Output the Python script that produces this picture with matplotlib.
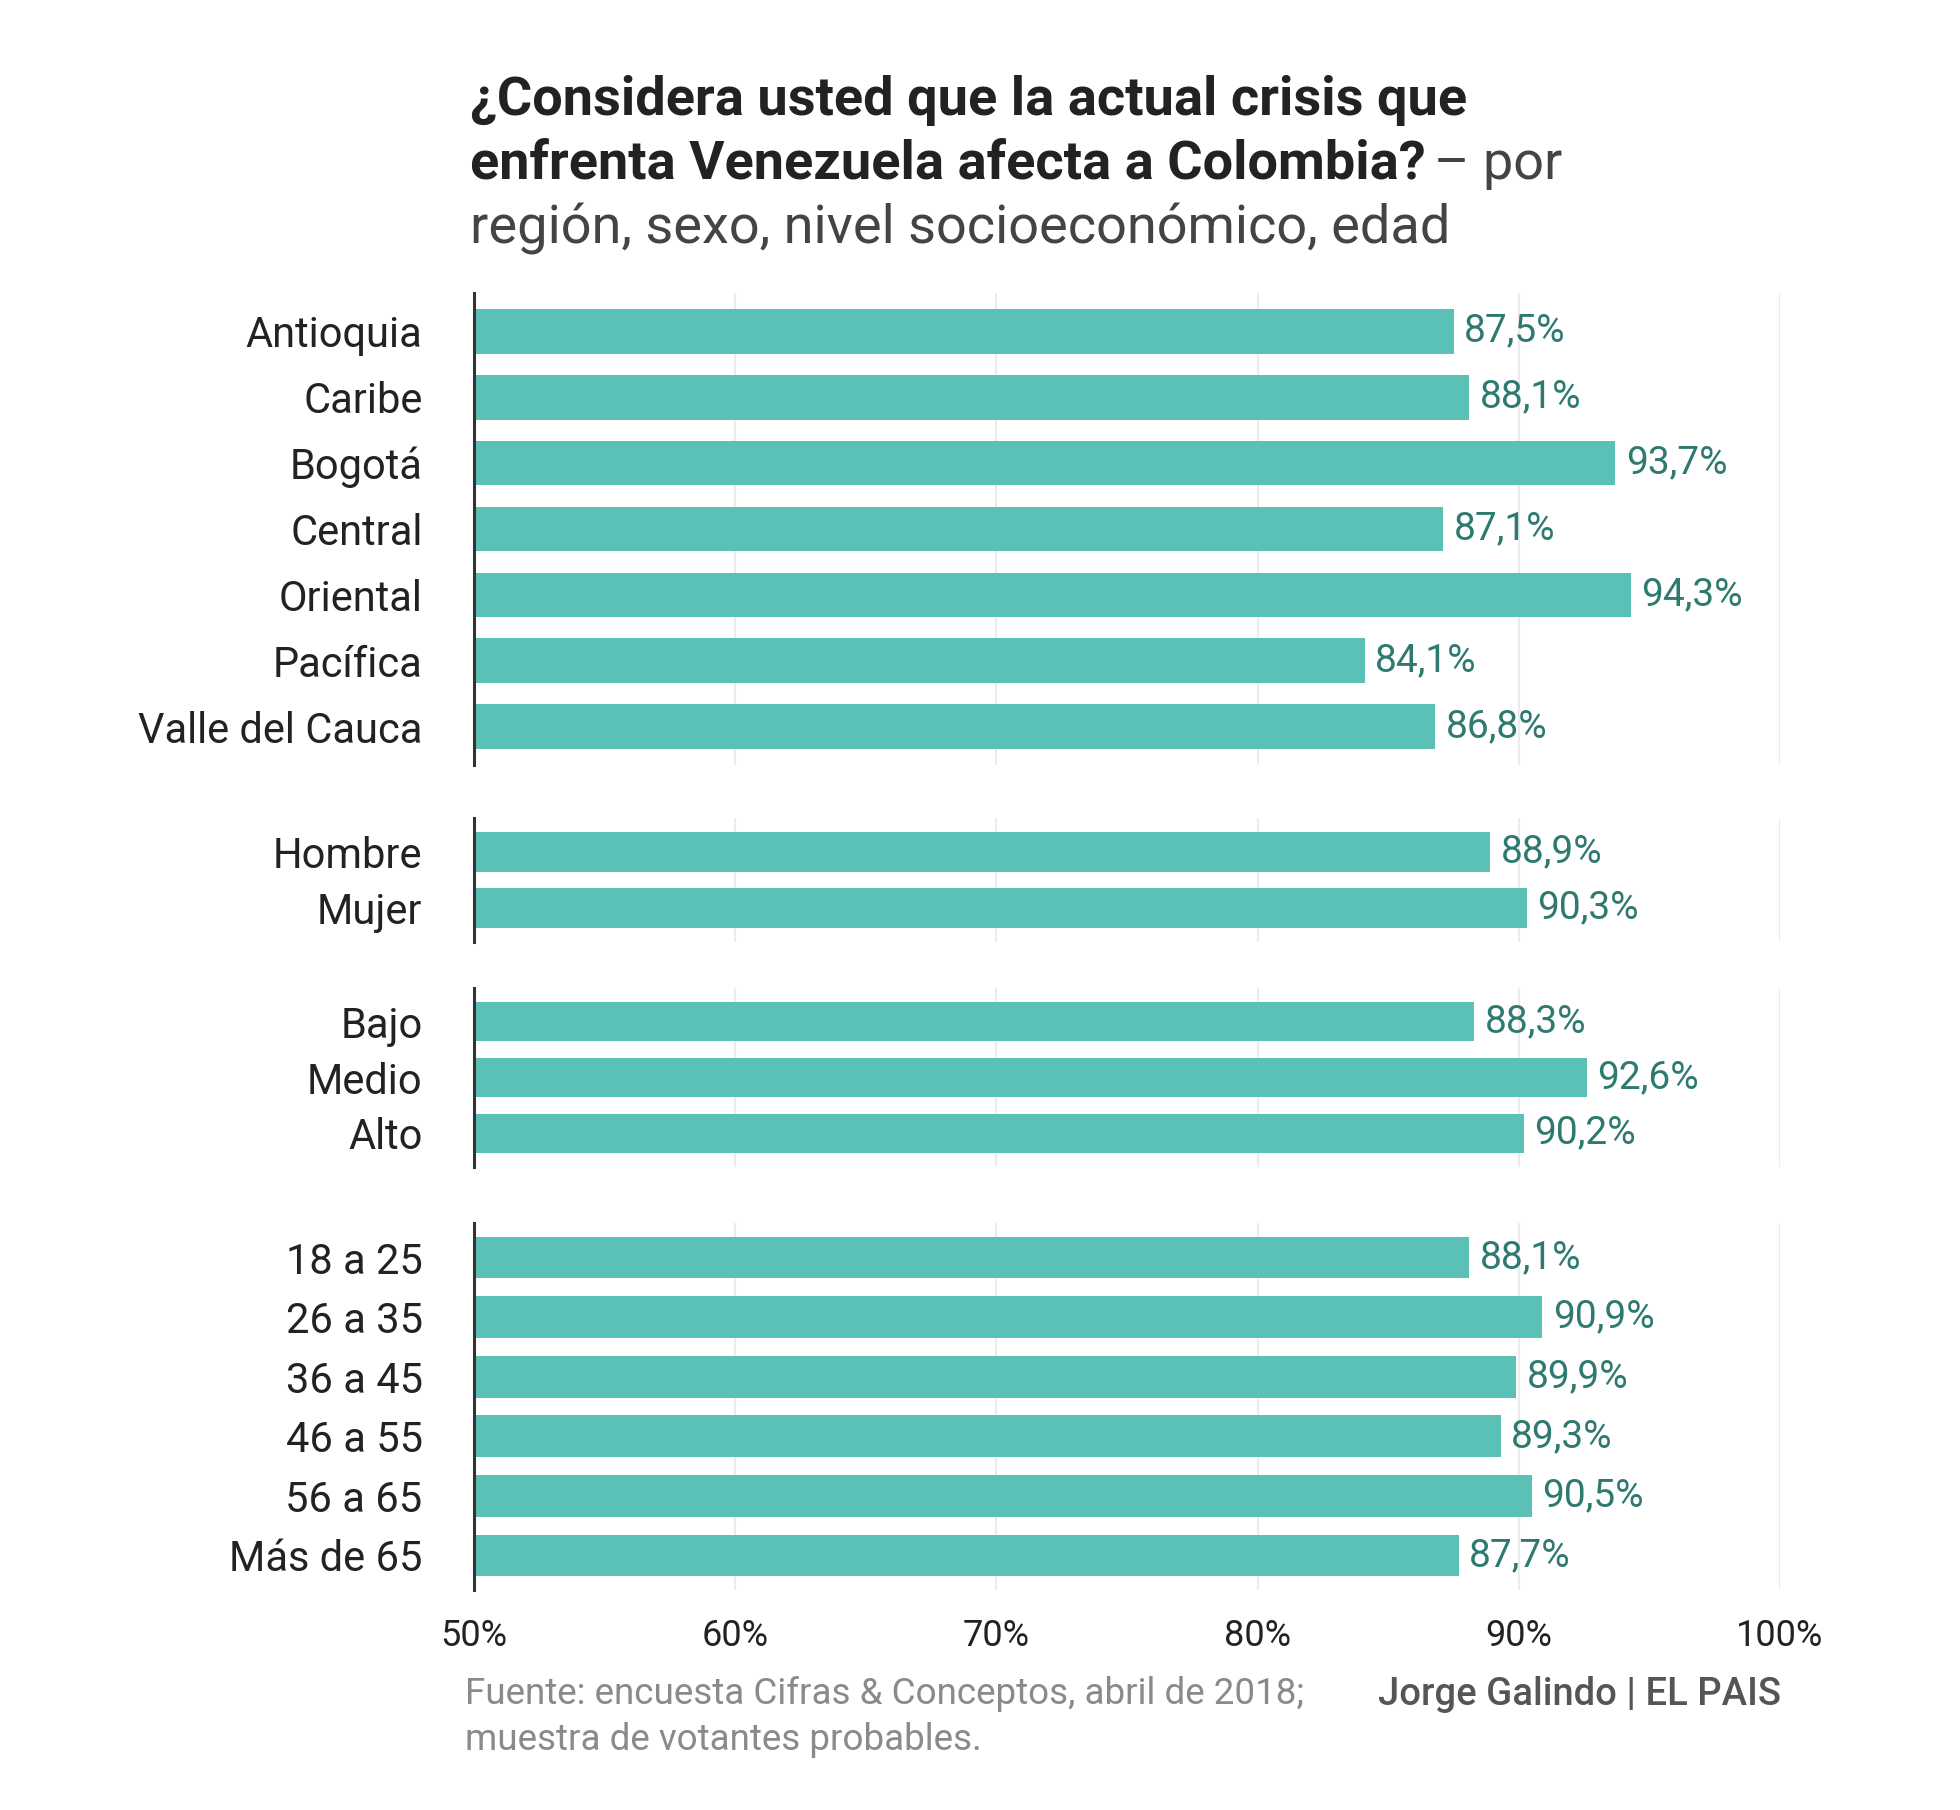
import matplotlib
matplotlib.use("Agg")
import matplotlib.pyplot as plt

# datos por grupo (% que responde "sí")
region = ["Antioquia", "Caribe", "Bogotá", "Central", "Oriental", "Pacífica", "Valle del Cauca"]
region_vals = [87.5, 88.1, 93.7, 87.1, 94.3, 84.1, 86.8]
sexo = ["Hombre", "Mujer"]
sexo_vals = [88.9, 90.3]
nivel = ["Bajo", "Medio", "Alto"]
nivel_vals = [88.3, 92.6, 90.2]
edad = ["18 a 25", "26 a 35", "36 a 45", "46 a 55", "56 a 65", "Más de 65"]
edad_vals = [88.1, 90.9, 89.9, 89.3, 90.5, 87.7]
xticks = [50, 60, 70, 80, 90, 100]

BAR = "#5bc0b5"
TXT = "#2f7a70"
FONT = ["Roboto", "DejaVu Sans"]
plt.rcParams["font.family"] = FONT

W, H = 1960, 1810
fig = plt.figure(figsize=(W / 100, H / 100), dpi=100)

# panel: (etiquetas, valores, top px, bottom px, margen en unidades, alto barra)
panels = [
    (region, region_vals, 293, 765, 0.58, 0.68),
    (sexo, sexo_vals, 818, 942, 0.61, 0.71),
    (nivel, nivel_vals, 988, 1167, 0.61, 0.70),
    (edad, edad_vals, 1223, 1590, 0.58, 0.70),
]
x0, x1 = 474, 1780

for i, (labels, vals, top, bot, pad, bh) in enumerate(panels):
    ax = fig.add_axes([x0 / W, 1 - bot / H, (x1 - x0) / W, (bot - top) / H])
    n = len(labels)
    ypos = list(range(n))
    ax.barh(ypos, [v - 50 for v in vals], left=50, height=bh, color=BAR, zorder=2)
    for y, v in zip(ypos, vals):
        ax.text(v + 0.4, y, f"{v:.1f}%".replace(".", ","), va="center", ha="left",
                fontsize=28, color=TXT, zorder=3)
    ax.set_xlim(50, 100)
    ax.set_ylim(n - 1 + pad, -pad)
    ax.set_yticks(ypos)
    ax.set_yticklabels(labels, fontsize=30, color="#222222")
    ax.tick_params(axis="y", length=0, pad=37)
    ax.set_xticks(xticks)
    for t in xticks[1:]:
        ax.axvline(t, color="#ececec", lw=1.5, zorder=1)
    for s in ["top", "right", "bottom"]:
        ax.spines[s].set_visible(False)
    ax.spines["left"].set_color("#333333")
    ax.spines["left"].set_linewidth(2.2)
    ax.spines["left"].set_zorder(4)
    if i == len(panels) - 1:
        ax.set_xticklabels([f"{t}%" for t in xticks], fontsize=26, color="#222222")
        ax.tick_params(axis="x", length=0, pad=20)
    else:
        ax.tick_params(axis="x", length=0, labelbottom=False)

# título
fig.text(470 / W, 1 - 100 / H, "¿Considera usted que la actual crisis que",
         fontsize=39, fontweight="bold", color="#222222", va="center")
t2 = fig.text(470 / W, 1 - 164 / H, "enfrenta Venezuela afecta a Colombia?",
              fontsize=39, fontweight="bold", color="#222222", va="center")
fig.canvas.draw()
bb = t2.get_window_extent()
fig.text(bb.x1 / W + 0.004, 1 - 164 / H, "– por", fontsize=39, color="#444444", va="center")
fig.text(470 / W, 1 - 229 / H, "región, sexo, nivel socioeconómico, edad",
         fontsize=39, color="#444444", va="center")

# pie
fig.text(465 / W, 1 - 1694 / H, "Fuente: encuesta Cifras & Conceptos, abril de 2018;",
         fontsize=26.5, color="#8a8a8a", va="center")
fig.text(465 / W, 1 - 1740 / H, "muestra de votantes probables.",
         fontsize=26.5, color="#8a8a8a", va="center")
fig.text(1781 / W, 1 - 1694 / H, "Jorge Galindo | EL PAIS",
         fontsize=27.5, color="#555555", va="center", ha="right", fontweight="medium")

fig.savefig("out.png", dpi=100, facecolor="white")
